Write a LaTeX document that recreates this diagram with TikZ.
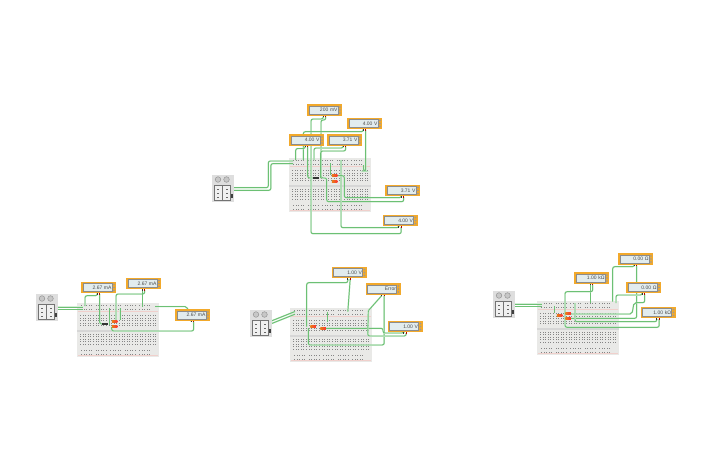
\documentclass[tikz,border=0pt]{standalone}
\usepackage{fontspec}
\setmainfont{Liberation Sans}
\usetikzlibrary{backgrounds}
\definecolor{wiregreen}{HTML}{6CC074}
\definecolor{wirelight}{HTML}{D5EED7}
\definecolor{meterorange}{HTML}{F2A92B}
\definecolor{meterblue}{HTML}{E2ECEE}
\definecolor{boardgray}{HTML}{E9E9E7}
\definecolor{holegray}{HTML}{858585}
\definecolor{railred}{HTML}{F0D0CC}
\tikzset{
    wire/.style={draw=wiregreen,line width=0.95pt,rounded corners=2pt,preaction={draw=wirelight,line width=1.5pt}},
    meterbox/.style={draw=meterorange,fill=meterorange,line width=0.8pt,minimum width=34pt,minimum height=10.5pt,inner sep=0pt},
    displaybox/.style={draw=black!45,fill=meterblue,line width=0.4pt,minimum width=29pt,minimum height=8pt,inner sep=0pt,
        font=\fontsize{5}{6}\selectfont,text=black!70,align=right,text width=28pt},
    boardbox/.style={fill=boardgray,minimum width=82pt,minimum height=54pt,inner sep=0pt,anchor=north west},
    supplybox/.style={fill=black!13,minimum width=22pt,minimum height=27pt,inner sep=0pt,anchor=north west},
    resistor/.style={left color=orange!60!brown,right color=red!80,minimum width=5.5pt,minimum height=2pt,inner sep=0pt},
    chip/.style={fill=black!80,minimum width=6pt,minimum height=2pt,inner sep=0pt}
}
% meter: name, centre x, centre y, reading
\newcommand{\meter}[4]{
    \node[meterbox] (#1) at (#2,#3) {};
    \node[displaybox] (#1-d) at (#2-1,#3) {#4};
    \foreach \k in {-3,0,3} \fill[black!40] (#2+15.5,#3+\k) circle (0.8);
    \coordinate (#1-n) at (#2-1.2,#3+6.5);
    \coordinate (#1-p) at (#2+1.2,#3+6.5);
    \fill[black!80] (#2-1.7,#3+5.5) rectangle ++(1,1.5);
    \fill[red!70!black] (#2+0.7,#3+5.5) rectangle ++(1,1.5);
}
% supply: name, left, top
\newcommand{\supply}[3]{
    \node[supplybox] (#1) at (#2,#3) {};
    \foreach \k in {6,14.5} {
        \draw[black!45,fill=black!22,line width=0.4pt] (#2+\k,#3+4.5) circle (2.8);
        \draw[black!55,fill=black!6,line width=0.5pt] (#2+\k-4,#3+10.5) rectangle ++(8,15);
        \foreach \j in {14,18,22} \fill[black!60] (#2+\k-1,#3+\j) rectangle ++(2,1.4);
    }
    \fill[black!75] (#2+19,#3+19) rectangle ++(2.4,4);
}
% breadboard: name, left, top
\newcommand{\breadboard}[3]{
    \node[boardbox] (#1) at (#2,#3) {};
    \fill[black!16] (#2,#3+27) rectangle ++(82,1.5);
    \fill[railred] (#2+1,#3+7.6) rectangle ++(80,0.5);
    \fill[railred] (#2+1,#3+52) rectangle ++(80,0.5);
    \foreach \r in {2,5.5,47,50.5} \foreach \c in {0,...,24}
        \fill[holegray] ({#2+4+\c*2.5+int(\c/5)*2},{#3+\r}) rectangle ++(0.8,0.8);
    \foreach \r in {12,14.5,17,19.5,22,30.5,33,35.5,38,40.5} \foreach \c in {0,...,29}
        \fill[holegray] ({#2+3+\c*2.6},{#3+\r}) rectangle ++(0.8,0.8);
}

\begin{document}
\begin{tikzpicture}[x=1pt,y=-1pt]
\useasboundingbox (0,0) rectangle (725,453);
% Top circuit
\meter{mTa}{324.5}{110}{200 mV}
\meter{mTb}{364.5}{123.5}{4.00 V}
\meter{mTc}{306.5}{140}{4.00 V}
\meter{mTd}{344.5}{140}{3.71 V}
\meter{mTe}{402.5}{190.5}{3.71 V}
\meter{mTf}{400}{220.5}{4.00 V}
\supply{sT}{212}{175}
% Left circuit
\meter{mLa}{98.5}{287.5}{2.67 mA}
\meter{mLb}{143.5}{283.5}{2.67 mA}
\meter{mLc}{192.5}{315}{2.67 mA}
\supply{sL}{36}{294}
% Middle circuit
\meter{mMa}{349}{272.5}{1.00 V}
\meter{mMb}{383}{289}{Error}
\meter{mMc}{405}{326.5}{1.00 V}
\supply{sM}{250}{310}
% Right circuit
\meter{mRa}{635.5}{259}{0.00 Ω}
\meter{mRb}{591.5}{278}{1.00 kΩ}
\meter{mRc}{643.5}{287.5}{0.00 Ω}
\meter{mRd}{658}{312.5}{1.00 kΩ}
\supply{sR}{493}{291}
% Supply pins
\coordinate (sT-p) at (232,187.7);
\coordinate (sT-n) at (232,190.3);
\coordinate (sL-p) at (55,307);
\coordinate (sL-n) at (55,309.7);
\coordinate (sM-p) at (270,321.5);
\coordinate (sM-n) at (270,324.2);
\coordinate (sR-p) at (512.7,304);
\coordinate (sR-n) at (512.7,306.6);
% Board ends
\coordinate (hTa) at (293,161);
\coordinate (hTb) at (293,163.6);
\coordinate (hTc) at (295.7,160);
\coordinate (hTd) at (303.3,160);
\coordinate (hTe) at (314,160);
\coordinate (hTf) at (341,160);
\coordinate (hTg) at (363.5,165);
\coordinate (hLa) at (83,307);
\coordinate (hLb) at (83,309.7);
\coordinate (hLc) at (85,306);
\coordinate (hLd) at (142.3,306.5);
\coordinate (hLe) at (155,306.5);
\coordinate (hMa) at (295,311.5);
\coordinate (hMb) at (295,314.2);
\coordinate (hMc) at (347.8,311.7);
\coordinate (hMd) at (368.3,310.7);
\coordinate (hRa) at (541.7,304);
\coordinate (hRb) at (541.7,306.6);
\coordinate (hRc) at (590.3,302.7);
\coordinate (hRd) at (612.7,301.7);
\coordinate (hRe) at (616,303);
\coordinate (hRf) at (575,303);
\begin{scope}[on background layer]
\breadboard{bT}{289}{158}
\breadboard{bL}{77}{303}
\breadboard{bM}{290}{308}
\breadboard{bR}{537}{301}
% Connections, top
\draw[wire] (sT-p) -- (268.3,187.7) -- (268.3,161) -- (hTa);
\draw[wire] (sT-n) -- (270.9,190.3) -- (270.9,163.6) -- (hTb);
\draw[wire] (mTa-n) |- (311,119) -- (311,233.7) -| (mTf-p);
\draw[wire] (mTa-p) |- (321,120) -- (321,178) -- (326.7,178) -- (326.7,201.7) -| (mTe-p);
\draw[wire] (mTb-n) |- (303.3,131.7) -- (hTd);
\draw[wire] (mTb-p) -- (365.7,171) -- (363.5,171) -- (hTg);
\draw[wire] (mTc-n) |- (295.7,148.5) -- (hTc);
\draw[wire] (mTc-p) -- (307.7,178) -- (314,178);
\draw[wire] (mTd-n) |- (314,148) -- (hTe);
\draw[wire] (mTd-p) |- (320.7,151) -- (320.7,178);
\draw[wire] (hTf) -- (341,227.7) -| (mTf-n);
\draw[wire] (337,175.7) -- (344.3,175.7) -- (344.3,197.7) -| (mTe-n);
\draw[wire] (330.7,163) -- (330.7,175);
% Connections, left
\draw[wire] (sL-p) -- (hLa);
\draw[wire] (sL-n) -- (hLb);
\draw[wire] (mLa-n) |- (85,295.7) -- (hLc);
\draw[wire] (mLa-p) -- (99.7,324) -- (102,324);
\draw[wire] (mLb-p) |- (116,294) -- (116,321.7);
\draw[wire] (mLb-n) -- (hLd);
\draw[wire] (hLe) -- (187,306.5) -- (mLc-n);
\draw[wire] (mLc-p) |- (111.7,331) -- (111.7,327);
\draw[wire] (120,308) -- (120,320);
\draw[wire] (109.3,308) -- (109.3,325);
% Connections, middle
\draw[wire] (sM-p) -- (hMa);
\draw[wire] (sM-n) -- (hMb);
\draw[wire] (mMa-n) |- (306.7,282.7) -- (306.7,326.7);
\draw[wire] (mMa-p) -- (hMc);
\draw[wire] (mMb-n) -- (hMd);
\draw[wire] (mMb-p) |- (308.3,345) -- (308.3,328);
\draw[wire] (mMc-n) |- (383,333) -- (383,328.3) -- (322,328.3);
\draw[wire] (mMc-p) |- (367.7,336) -- (hMd);
\draw[wire] (327.7,311.7) -- (327.7,321.7);
% Connections, right
\draw[wire] (sR-p) -- (hRa);
\draw[wire] (sR-n) -- (hRb);
\draw[wire] (mRb-n) -- (hRc);
\draw[wire] (mRb-p) |- (565,291.7) -- (565,327.3) -| (mRd-p);
\draw[wire] (mRa-n) |- (612.7,266.7) -- (hRd);
\draw[wire] (mRa-p) |- (570,318.3);
\draw[wire] (mRc-n) |- (616,295) -- (hRe);
\draw[wire] (mRc-p) |- (634,302.7) -- (632,314) -- (571,314);
\draw[wire] (mRd-n) |- (575,321.7) -- (hRf);
\draw[wire] (554.3,306) -- (554.3,313.3);
\end{scope}
% Parts on the boards
\node[chip] (cT) at (316,178) {};
\node[resistor] (rTa) at (334.5,175.7) {};
\node[resistor] (rTb) at (334.5,181) {};
\node[chip] (cL) at (104.7,324.3) {};
\node[resistor] (rLa) at (114.5,321.7) {};
\node[resistor] (rLb) at (114.5,326.7) {};
\node[resistor] (rMa) at (313,326) {};
\node[resistor] (rMb) at (323,328.3) {};
\node[resistor] (rRa) at (559.5,315.7) {};
\node[resistor] (rRb) at (568,313.3) {};
\node[resistor] (rRc) at (568,318.3) {};
\end{tikzpicture}
\end{document}
